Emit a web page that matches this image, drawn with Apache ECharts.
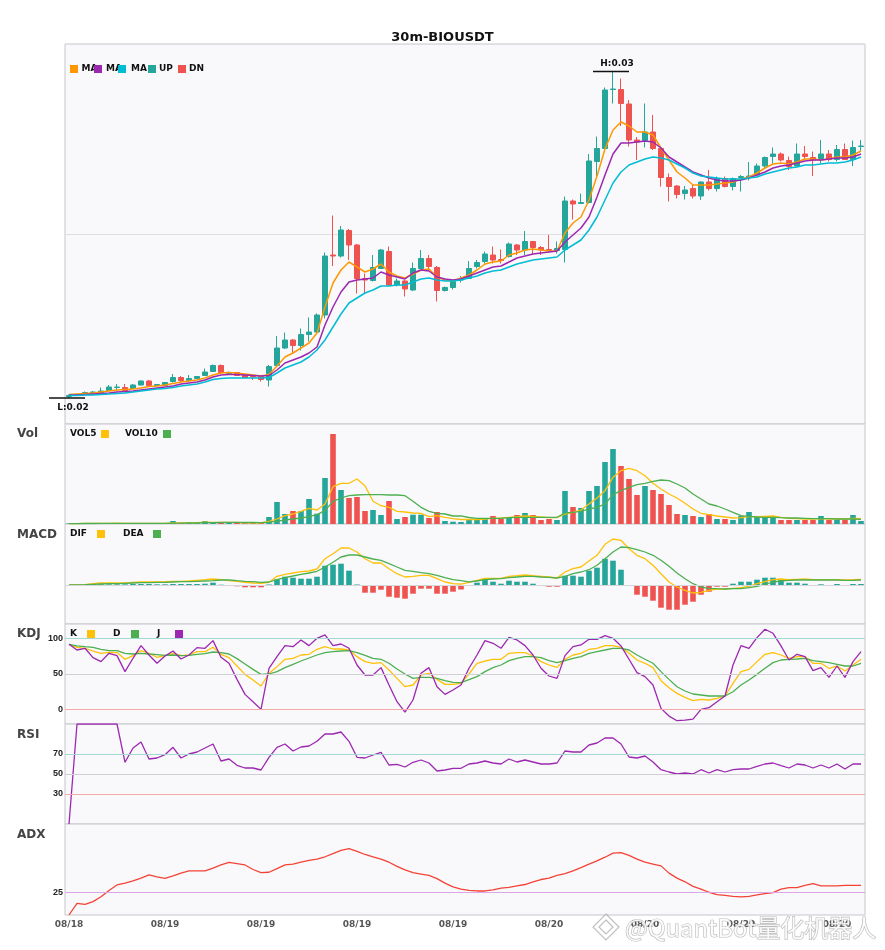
<!DOCTYPE html>
<html>
<head>
<meta charset="utf-8">
<title>30m-BIOUSDT</title>
<script src="https://cdn.jsdelivr.net/npm/echarts@6/dist/echarts.min.js"></script>
<style>
html, body { margin: 0; padding: 0; background: #fff; }
#main { width: 885px; height: 950px; }
</style>
</head>
<body>
<div id="main"></div>
<script>
var upColor = '#26a69a';
var downColor = '#ef5350';

// 30m candles, 08/18 18:00 onwards
var times = [];
function pad(n) { return (n < 10 ? '0' : '') + n; }
for (var t = 0; t < 100; t++) {
    var m = 18 * 60 + 30 * t;
    var hm = m % 1440;
    times.push('08/' + (18 + Math.floor(m / 1440)) + ' ' + pad(Math.floor(hm / 60)) + ':' + pad(hm % 60));
}

var open = [0.0163,0.01634,0.01638,0.01646,0.01644,0.01654,0.01666,0.01666,0.01662,0.01676,
0.01692,0.01674,0.01674,0.0169,0.01706,0.01694,0.01702,0.01714,0.0173,0.01754,
0.01722,0.01726,0.01714,0.0171,0.0171,0.01696,0.01754,0.01824,0.01856,0.01834,
0.01878,0.01888,0.01956,0.02196,0.02192,0.02294,0.02236,0.02102,0.02094,0.02142,
0.0221,0.02076,0.02092,0.02056,0.02142,0.02182,0.02146,0.02054,0.02066,0.02096,
0.02102,0.0215,0.0217,0.02196,0.02178,0.0219,0.02236,0.02216,0.0225,0.02226,
0.02218,0.02214,0.02218,0.02412,0.02402,0.02406,0.0257,0.02622,0.02858,0.02858,
0.028,0.02656,0.02654,0.02688,0.02622,0.02506,0.02472,0.02442,0.02462,0.02432,
0.02488,0.02462,0.02502,0.0247,0.02506,0.02506,0.02516,0.02552,0.0259,0.026,
0.02574,0.02552,0.026,0.02586,0.02582,0.026,0.02578,0.02618,0.02578,0.0263];

var close = [0.01634,0.01638,0.01646,0.01648,0.01652,0.01668,0.01668,0.01654,0.01676,0.01692,
0.01674,0.01678,0.01686,0.01706,0.01694,0.01702,0.0171,0.01728,0.01754,0.01726,
0.01724,0.01714,0.01706,0.01708,0.01698,0.0175,0.01824,0.01856,0.01834,0.01878,
0.01888,0.01956,0.02192,0.02192,0.02296,0.02236,0.02102,0.02096,0.02146,0.02216,
0.02076,0.02092,0.0206,0.02142,0.02182,0.0215,0.02054,0.02066,0.0209,0.02102,
0.02142,0.02166,0.022,0.02176,0.02174,0.0224,0.02216,0.0225,0.02226,0.02216,
0.02214,0.02222,0.02412,0.024,0.02406,0.02572,0.02622,0.02856,0.0286,0.02802,
0.02656,0.02648,0.02688,0.02622,0.02506,0.0247,0.02438,0.02456,0.02432,0.02488,
0.02462,0.02502,0.0247,0.02502,0.0251,0.02512,0.02552,0.02586,0.026,0.02576,
0.0255,0.026,0.0259,0.02576,0.026,0.02578,0.02618,0.02578,0.02626,0.02632];

var low = [0.01624,0.01632,0.01636,0.0164,0.01642,0.01652,0.01654,0.01646,0.0166,0.01674,
0.01672,0.01672,0.01672,0.01686,0.01688,0.01688,0.017,0.01712,0.01728,0.0172,
0.01718,0.01712,0.01704,0.01696,0.0169,0.0167,0.01752,0.0182,0.01802,0.01814,
0.0185,0.01884,0.01942,0.02152,0.02186,0.02176,0.02042,0.02042,0.0209,0.0214,
0.02072,0.0207,0.0203,0.02052,0.0214,0.02134,0.0201,0.0205,0.02058,0.02086,
0.021,0.02142,0.02162,0.02162,0.02162,0.02186,0.02196,0.02196,0.02196,0.02196,
0.0221,0.02202,0.02166,0.02338,0.024,0.02402,0.0251,0.0262,0.02802,0.02712,
0.0263,0.02576,0.02626,0.02616,0.0247,0.0241,0.02422,0.02418,0.02422,0.02416,
0.02454,0.0245,0.02466,0.02454,0.0245,0.02494,0.0251,0.02542,0.02562,0.0257,
0.02536,0.0255,0.02576,0.02512,0.02562,0.0257,0.0257,0.02576,0.02552,0.0261];

var high = [0.01638,0.01642,0.0165,0.01652,0.01666,0.01676,0.0168,0.0168,0.0168,0.01694,
0.01696,0.0168,0.01688,0.0172,0.01712,0.01716,0.01712,0.01742,0.01758,0.01758,
0.0173,0.01728,0.01716,0.01714,0.01712,0.01756,0.01872,0.01886,0.0186,0.01902,
0.01946,0.01962,0.02206,0.02354,0.02312,0.023,0.0224,0.02122,0.02196,0.0222,
0.0223,0.02102,0.02096,0.02166,0.02216,0.02196,0.02152,0.0207,0.02096,0.02112,
0.02172,0.02176,0.0221,0.0223,0.02218,0.02246,0.0224,0.02292,0.02252,0.02232,
0.02276,0.0225,0.0243,0.02418,0.02442,0.026,0.0267,0.02866,0.0293,0.02902,
0.02816,0.02668,0.02802,0.02756,0.0263,0.02522,0.02476,0.02472,0.02476,0.0249,
0.02536,0.0251,0.0251,0.02506,0.02516,0.02568,0.02562,0.0259,0.02626,0.02606,
0.0259,0.02642,0.02632,0.0261,0.02656,0.02616,0.02636,0.02642,0.02654,0.02656];

var ma5 = [0.01638,0.0164,0.01642,0.01644,0.01648,0.01652,0.01656,0.01658,0.0166,0.01664,
0.0167,0.01672,0.01676,0.01682,0.01688,0.01692,0.01696,0.01704,0.01716,0.01724,
0.01726,0.01724,0.0172,0.01716,0.01712,0.01718,0.01752,0.01788,0.01804,0.01824,
0.01844,0.01884,0.01988,0.02084,0.02136,0.02168,0.02148,0.02128,0.0214,0.0216,
0.02128,0.02112,0.02104,0.0212,0.02136,0.0214,0.02108,0.02096,0.02092,0.02104,
0.02116,0.02136,0.0216,0.02168,0.02172,0.02196,0.02204,0.02216,0.0222,0.02216,
0.02212,0.02212,0.02284,0.02324,0.02348,0.02416,0.02512,0.0262,0.02696,0.02728,
0.02712,0.02688,0.02688,0.02676,0.02624,0.02576,0.02528,0.02504,0.02476,0.02476,
0.02476,0.0248,0.02484,0.02488,0.025,0.02508,0.02524,0.02544,0.0256,0.02564,
0.0256,0.02568,0.0258,0.0258,0.02576,0.0258,0.02588,0.02588,0.02596,0.02612];

var ma10 = [0.01636,0.01636,0.01638,0.0164,0.01642,0.01644,0.01648,0.0165,0.01652,0.01656,
0.0166,0.01664,0.01668,0.01672,0.0168,0.01684,0.01688,0.01696,0.01708,0.01716,
0.01718,0.01718,0.01716,0.01714,0.01712,0.01714,0.01736,0.01764,0.01776,0.01788,
0.01804,0.01828,0.01916,0.01988,0.02048,0.02088,0.02096,0.021,0.02104,0.02128,
0.02116,0.02108,0.021,0.02124,0.02136,0.02132,0.02108,0.021,0.02096,0.021,
0.02112,0.02124,0.02136,0.02148,0.02152,0.02168,0.02184,0.02192,0.022,0.02204,
0.02208,0.02212,0.02248,0.02276,0.02304,0.02348,0.02428,0.02516,0.026,0.02644,
0.02644,0.02648,0.02652,0.02648,0.02624,0.02588,0.02568,0.02548,0.02528,0.02516,
0.02504,0.02496,0.02492,0.02492,0.02496,0.02504,0.02516,0.02528,0.02544,0.02552,
0.02556,0.02564,0.02572,0.02576,0.02576,0.0258,0.02584,0.02584,0.02588,0.026];

var ma20 = [0.01634,0.01634,0.01636,0.01636,0.01638,0.0164,0.01642,0.01644,0.01648,0.01652,
0.01656,0.0166,0.01662,0.01666,0.01672,0.01676,0.0168,0.01688,0.01698,0.01702,
0.01704,0.01704,0.01704,0.01704,0.01704,0.01706,0.01724,0.01744,0.01756,0.01768,
0.01788,0.01816,0.01856,0.01908,0.0196,0.02004,0.02024,0.02044,0.02056,0.02072,
0.02072,0.02076,0.02076,0.02088,0.021,0.02104,0.02096,0.02092,0.02092,0.02096,
0.02104,0.02112,0.02124,0.02132,0.02136,0.02148,0.0216,0.02168,0.02176,0.0218,
0.02184,0.02188,0.02216,0.02236,0.02256,0.02296,0.02348,0.02416,0.02484,0.02528,
0.02556,0.02568,0.0258,0.02588,0.02584,0.02576,0.0256,0.02544,0.02524,0.02512,
0.02508,0.02504,0.025,0.025,0.025,0.02504,0.02508,0.0252,0.02528,0.02536,
0.02544,0.02548,0.02556,0.02556,0.0256,0.02564,0.02564,0.02568,0.02576,0.02588];

var vol = [0.5,0.3,1,0.3,1,0.5,0.5,0.5,0.5,0.8,
0.8,0.5,0.8,3,1,1,1,3,1.5,1.5,
1,1,1,1,1,7,22,10,13,13,
25,10.3,46,90,34,26,27,13,14,9,
23,5,7,9.3,9.3,6,12,3,2.3,2,
5,5,5,8,5.3,7,9,11,9,4,
5,4,33,17,16,33,38,62,75,58,
45,29,38,34,30,19,10,9,8,7,
10,5,5,4,8,12,7,7,7,4,
4,4,4,4,8,4,4,4,9,3];

var vol5 = [0.4,0.4,0.6,0.6,0.7,0.7,0.8,0.6,0.6,0.6,
0.7,0.6,0.7,1.2,1.2,1.3,1.4,1.8,1.7,1.6,
1.6,1.6,1.2,1.1,1.1,2.7,5,8.3,10,12.7,
15.7,14,20,37.3,40.7,40.7,45,38.3,22.7,18.3,
16.7,12.7,12,11,10.7,7.3,8.3,6.7,5.3,4.5,
4.7,4.5,5,5.7,6,6.7,7.3,8,7.7,7,
6.3,6.3,10,11.7,14,20,26,33.3,46.7,53.3,
55.7,53.3,48.3,40.7,35,30,26,20.7,15,10.7,
9.3,8,7,6,6.3,7.3,7.3,7.7,8,6.7,
5.7,5.3,5,5,5.3,5,5,5,5.7,5.3];

var vol10 = [0.4,0.4,0.5,0.5,0.6,0.6,0.6,0.6,0.6,0.6,
0.6,0.6,0.6,0.9,0.9,1,1,1.3,1.4,1.5,
1.6,1.6,1.5,1.5,1.4,1.9,2.7,4,5,6,
7.3,9.3,13.3,22.7,26,28.3,29,29.3,29.3,29.3,
29,29,28.3,22.7,16.7,12.7,10.7,10,8,8.2,
6.5,5.7,5.7,5.7,5.7,6.3,6.7,6.7,6.7,6.7,
6.7,6.7,11,11.7,12.7,15,16.7,20,29.3,33.3,
36.7,39.3,40.7,42.7,44,43.3,40,36,30,25,
20,18,15,11.7,8.3,7.7,7,6.7,6.7,6.3,
6,6,5.7,5.3,5.3,5.3,5,5,5,4.7];

var macd = [0,0,0,0.3,0.7,0.7,0.7,0.7,1,1,
1,0.7,0.7,1,1,1,1,1.3,2.3,0.3,
-0.3,-1.3,-2.3,-2.3,-2.3,0.5,5.7,8.3,7.3,6.3,
6.3,8.3,19.3,20.3,21.3,14.3,0.5,-7.7,-7.7,-4.7,
-11.7,-12.7,-13.7,-8.7,-3.7,-3.7,-8.7,-8.7,-6.7,-4.5,
-0.7,2.3,5.7,3.3,1.3,4.3,3.3,3.3,1.3,-0.7,
-1.7,-1.7,9.3,9.3,8.3,14.3,17.3,26.3,24.3,15.3,
-0.7,-9.7,-11.7,-15.7,-22.7,-24.7,-24.7,-19.7,-16.7,-9.7,
-6.7,-1.7,-1.7,1.3,3.3,3.3,5.3,7.3,7.3,5.3,
2.3,2.3,1.3,-0.7,0.7,-0.7,1,-0.7,1,1];

var dif = [0,0,0.3,1.3,2,2,2,2,2.7,3,
3,3,3.3,3.7,3.7,4,4.7,5.3,6,5.3,
4.3,3.7,2.7,2,1.7,2.7,8.7,10.7,12,13.3,
14,16,26.3,31.3,37,37,33,26.3,22,22,
16.3,11.3,8,8.7,9.7,9.7,6.3,3,1.3,0.8,
2.7,4.7,6.7,6.7,6.7,8.7,9.3,10,9.3,8.7,
8,7,13,16.3,18,24,29.7,40.7,46,44.7,
36.3,29.7,26.3,19.7,11.3,3,-2,-5.3,-8,-7.3,
-5.3,-4,-4,-3.3,-2.7,-1.3,1.3,3.3,5.3,6,
5.3,5.7,6,5.3,5.3,5.3,5.3,5,5.3,5.7];

var dea = [0,0,0.3,0.7,1,1.3,1.3,1.7,2,2.3,
2.3,2.7,2.7,3,3.3,3.3,3.7,4,4.3,5,
5,4.3,3.7,3.3,2.7,3,5.3,7.3,9,10.7,
12,13.7,18,22.7,28,30,30,28,26,24.7,
21.3,18,14.7,13.7,12.3,11.3,9.7,7.3,5.3,4.3,
3.2,4,5.3,6,6.3,7.3,8,8.7,8.7,8,
7.7,7,8.7,11.3,13,15.3,19.7,26.3,33,38,
37.3,35.3,33,29.7,24.7,18.7,12,6.3,1.3,-2,
-3.3,-3.7,-4,-3.7,-3.7,-2.7,-1.3,0.7,3,4,
4.7,5,5,5,5,5,5,4.7,4.7,5];

var kLine = [91.6,87.4,86,82.2,79,80.4,80,70.6,75.7,82.7,
79,73.4,75.7,79,75.7,76.6,81.3,81.3,87.4,77.6,
72.9,61.2,49.5,41.6,33.2,51,60.3,70.6,72,76.6,
77.6,84.6,88.3,85,85,83.6,74.3,67.3,65,65.9,
55.6,43.9,32.2,34.6,48.6,51,42.5,35.5,35.5,36.9,
50,65,68.2,70.6,70.6,79,80,80,75.2,67.3,
62.6,59.3,70.6,76.6,79,84.6,86,89.7,89.7,87.4,
79,69.6,65,58.9,40.7,30.8,22.9,17.3,12.6,14.5,
13.6,15.9,19.2,36.9,53.3,56.5,67.3,77.6,80,76.6,
72,74.3,74.3,65,65,58,61.2,54.2,62.6,70.6];

var dLine = [91.6,89.3,88.3,87.4,84.6,82.7,82.7,79,78,79,
78,77.1,76.2,76.6,75.7,76.2,77.6,78.5,80.8,79.9,
78,71.5,64,56.5,49.5,50,53.3,58.9,63.6,68.2,
72.4,76.6,79.9,81.3,82.2,82.7,79.9,76.2,72,70.6,
65,57,50,43.9,45.3,45.3,43.9,40.7,38.3,37.9,
42,46.3,53.3,58.9,62.6,68.7,72,74.3,74.3,72.9,
68.7,65.9,68.7,72,74.3,79,81.3,83.6,86,86,
83.6,76.6,70.6,65,53.3,42.5,32.2,26.2,22,20.6,
19.2,19.2,19.2,25.2,34.6,41.6,49.5,58,65.9,69.6,
70.6,71,72,68.7,67.3,65.9,63.6,61.2,61.2,65];

var jLine = [91.6,83.6,86,72.9,67.3,79,75.7,53.3,72,89.7,
76.6,65,75.2,82.2,71,76.6,86.9,86,96.7,73.4,
65,42.5,21.5,11.2,0.5,58,74.3,89.7,88.3,97.7,
89.7,100,104.7,89.7,92,86,62.6,48.6,48.6,58.9,
34.6,11.2,-3.3,13.6,51,58.9,32.2,21.5,27.6,34.6,
58,76.6,96.7,93,86,101.4,97.7,89.7,76.6,58,
47.2,43.9,75.7,88.3,90.7,98.6,98.6,103.7,100,89.3,
70.6,51.9,46.3,34.6,1.9,-8.9,-15.4,-14.5,-13.1,0.5,
2.8,11.2,19.2,62.6,89.7,86,100.9,112.6,107,89.3,
69.6,77.6,74.3,54.7,58.9,45.3,61.2,45.3,67.3,81.3];

var rsi = [0,100,100,100,100,100,100,61.7,76,82,
65,66,69.3,76.7,66,70,72,76,80,63,
65,58.7,56,56,54,66.7,76.7,80,73,77,
78,82.7,90,90,92,82.7,66.7,66,69,71.7,
59,59.7,57,61.7,64,61,53,54,55.7,55.7,
60,61,63,61,60,65,62,64,62,60,
60,61,73,72,72,79,81,86,86,80,
67,66,68,62,54.3,52,50,51,50,54.3,
51,54.3,52,54.3,55,55,57.7,60,61,58.3,
56,60,59,56,59,56,60,55,60,60];

var adx = [0,12.8,11.7,14.7,20,27,33,35,37.4,40.5,
44,42,40.3,43,46,48.4,48.4,48.4,51.5,55,
57.9,56.5,55,50,46.5,47,51,55,56,58,
60,61.5,64,67.5,71,73,70,66.5,64,61.5,
58,53.5,49.5,46.5,45,43.5,40,35,31,28.5,
27,26.4,26.4,27.5,29.5,30.4,32,33.5,36.5,39,
40.5,43.5,45.5,48.4,52,56,59.5,63.5,68,68.5,
65.5,61.5,58,56,54,46,40.5,36.5,31.5,28.5,
25,22.5,21.5,20.5,20,20.5,22,23.5,24.5,28.5,
30,30,32.5,34.5,32,32,32,32.6,32.6,32.6];

var kdjLevels = [100, 50, 0];
var rsiLevels = [70, 50, 30];
var adxLevels = [25];

var candleData = open.map(function (o, i) { return [o, close[i], low[i], high[i]]; });
var volData = vol.map(function (v, i) {
    return { value: v, itemStyle: { color: close[i] >= open[i] ? upColor : downColor } };
});
var macdData = macd.map(function (v) {
    return { value: v, itemStyle: { color: v >= 0 ? upColor : downColor } };
});

var grids = [[44, 380], [424, 100], [524, 100], [624, 100], [724, 100], [824, 91]];

function levelLines(levels, colors) {
    return {
        silent: true, symbol: 'none', label: { show: false },
        data: levels.map(function (v, i) {
            return { yAxis: v, lineStyle: { color: colors[i], width: 1, type: 'solid' } };
        })
    };
}

function line(name, data, color, idx, extra) {
    var s = {
        name: name, type: 'line', data: data, xAxisIndex: idx, yAxisIndex: idx,
        symbol: 'none', lineStyle: { color: color, width: 1.3 }, itemStyle: { color: color },
        z: 3
    };
    for (var k in extra) s[k] = extra[k];
    return s;
}

function onlyLabels(list) {
    return function (v) { return list.indexOf(Math.round(v)) >= 0 ? String(Math.round(v)) : ''; };
}

var labelStyle = { color: '#222', fontWeight: 'bold', fontSize: 9, margin: 2 };
function yAxis(idx, o) {
    var a = {
        type: 'value', gridIndex: idx, axisLine: { show: false }, axisTick: { show: false },
        axisLabel: { show: false }, splitLine: { show: false }
    };
    for (var k in o) a[k] = o[k];
    return a;
}

var textFont = 'bold 9px "DejaVu Sans", sans-serif';
var panelFont = 'bold 12px "DejaVu Sans", sans-serif';
function txt(x, y, s, font, fill, extra) {
    var st = { text: s, font: font || textFont, fill: fill || '#111', align: 'left', verticalAlign: 'middle' };
    for (var k in extra) st[k] = extra[k];
    return { type: 'text', x: x, y: y, style: st, z: 100 };
}
function box(x, y, color) {
    return { type: 'rect', shape: { x: x, y: y, width: 8, height: 8 }, style: { fill: color }, z: 100 };
}

var cut = { width: 20, overflow: 'truncate', ellipsis: '' };
var graphics = [
    // main legend
    box(70, 65, '#ff9800'), txt(81.5, 69, 'MA5', null, null, cut),
    box(94, 65, '#9c27b0'), txt(106, 69, 'MA10', null, null, cut),
    box(118, 65, '#00bcd4'), txt(131, 69, 'MA20', null, null, cut),
    box(148, 65, upColor), txt(159, 69, 'UP'),
    box(178, 65, downColor), txt(189, 69, 'DN'),
    // sub-panel legends
    txt(70, 434, 'VOL5'), box(101, 430, '#ffc107'), txt(125, 434, 'VOL10'), box(163, 430, '#4caf50'),
    txt(70, 534, 'DIF'), box(97, 530, '#ffc107'), txt(123, 534, 'DEA'), box(153, 530, '#4caf50'),
    txt(70, 634, 'K'), box(87, 630, '#ffc107'), txt(113, 634, 'D'), box(131, 630, '#4caf50'),
    txt(157, 634, 'J'), box(175, 630, '#9c27b0'),
    // panel names
    txt(17, 434, 'Vol', panelFont, '#444'),
    txt(17, 535, 'MACD', panelFont, '#444'),
    txt(17, 634, 'KDJ', panelFont, '#444'),
    txt(17, 735, 'RSI', panelFont, '#444'),
    txt(17, 835, 'ADX', panelFont, '#444'),
    // watermark
    { type: 'polygon', shape: { points: [[606, 914], [619, 927], [606, 940], [593, 927]] },
      style: { fill: 'rgba(255,255,255,0.7)', stroke: 'rgba(150,150,150,0.6)', lineWidth: 1.2 }, z: 110 },
    { type: 'polygon', shape: { points: [[606, 920], [613, 927], [606, 934], [599, 927]] },
      style: { fill: 'none', stroke: 'rgba(150,150,150,0.6)', lineWidth: 1.2 }, z: 110 },
    txt(625, 928, '@QuantBot量化机器人', '24px "Noto Sans CJK SC", sans-serif', 'rgba(255,255,255,0.85)',
        { stroke: 'rgba(140,140,140,0.6)', lineWidth: 1.2 })
];

var option = {
    animation: false,
    backgroundColor: '#fff',
    title: {
        text: '30m-BIOUSDT', left: 'center', top: 26,
        textStyle: { fontSize: 13, fontWeight: 'bold', color: '#111', fontFamily: 'DejaVu Sans' }
    },
    graphic: graphics,
    grid: grids.map(function (g) {
        return {
            left: 65, right: 20, top: g[0], height: g[1], show: true,
            backgroundColor: '#f9f9fb', borderColor: '#c6c6cc', borderWidth: 1
        };
    }),
    xAxis: grids.map(function (g, i) {
        return {
            type: 'category', gridIndex: i, data: times, boundaryGap: true,
            axisLine: { show: false }, axisTick: { show: false }, splitLine: { show: false },
            axisLabel: {
                show: i === grids.length - 1, interval: 11, margin: 5,
                color: '#555', fontWeight: 'bold', fontSize: 9, fontFamily: 'DejaVu Sans',
                formatter: function (v) { return v.slice(0, 5); }
            }
        };
    }),
    yAxis: [
        yAxis(0, { min: 0.0152, max: 0.0304, interval: 0.0076, splitLine: { show: true, lineStyle: { color: '#dedee4' } } }),
        yAxis(1, { min: 0, max: 100 }),
        yAxis(2, { min: -39, max: 61 }),
        yAxis(3, { min: -20, max: 120, interval: 10, axisLabel: Object.assign({ formatter: onlyLabels(kdjLevels) }, labelStyle) }),
        yAxis(4, { min: 0, max: 100, interval: 10, axisLabel: Object.assign({ formatter: onlyLabels(rsiLevels) }, labelStyle) }),
        yAxis(5, { min: 0, max: 100, interval: 25, axisLabel: Object.assign({ formatter: onlyLabels(adxLevels) }, labelStyle) })
    ],
    series: [
        {
            name: 'K线', type: 'candlestick', data: candleData, xAxisIndex: 0, yAxisIndex: 0,
            barWidth: '66%',
            itemStyle: { color: upColor, color0: downColor, borderColor: upColor, borderColor0: downColor, borderWidth: 1 },
            markPoint: {
                symbol: 'rect', symbolSize: [36, 1.5], symbolOffset: [-2, 0],
                itemStyle: { color: '#111' },
                label: { fontSize: 9, fontWeight: 'bold', color: '#111', offset: [6, 0], fontFamily: 'DejaVu Sans' },
                data: [
                    { name: 'H', type: 'max', valueDim: 'highest',
                      label: { position: 'top', distance: 3, formatter: function (p) { return 'H:' + p.value.toFixed(2); } } },
                    { name: 'L', type: 'min', valueDim: 'lowest',
                      label: { position: 'bottom', distance: 4, formatter: function (p) { return 'L:' + p.value.toFixed(2); } } }
                ]
            }
        },
        line('MA5', ma5, '#ff9800', 0, { lineStyle: { color: '#ff9800', width: 1.5 } }),
        line('MA10', ma10, '#9c27b0', 0, { lineStyle: { color: '#9c27b0', width: 1.5 } }),
        line('MA20', ma20, '#00bcd4', 0, { lineStyle: { color: '#00bcd4', width: 1.5 } }),

        { name: 'Vol', type: 'bar', data: volData, xAxisIndex: 1, yAxisIndex: 1, barWidth: '70%' },
        line('VOL5', vol5, '#ffc107', 1),
        line('VOL10', vol10, '#4caf50', 1),

        { name: 'MACD', type: 'bar', data: macdData, xAxisIndex: 2, yAxisIndex: 2, barWidth: '70%',
          markLine: levelLines([0], ['#d6d6da']) },
        line('DIF', dif, '#ffc107', 2),
        line('DEA', dea, '#4caf50', 2),

        line('K', kLine, '#ffc107', 3, { markLine: levelLines(kdjLevels, ['#a3d9d3', '#cfcfd4', '#f5aaaa']) }),
        line('D', dLine, '#4caf50', 3),
        line('J', jLine, '#9c27b0', 3),

        line('RSI', rsi, '#9c27b0', 4, { markLine: levelLines(rsiLevels, ['#a3d9d3', '#cfcfd4', '#f5aaaa']) }),

        line('ADX', adx, '#f44336', 5, { markLine: levelLines(adxLevels, ['#dba6e6']) })
    ]
};

var chart = echarts.init(document.getElementById('main'));
chart.setOption(option);
</script>
</body>
</html>
